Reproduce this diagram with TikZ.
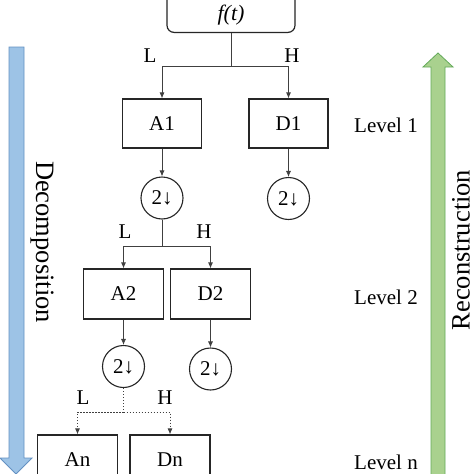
\documentclass[tikz,border=0pt]{standalone}
\usepackage{fontspec}
\setmainfont{Liberation Serif}
\usetikzlibrary{arrows.meta}
\definecolor{bluefill}{RGB}{157,195,230}
\definecolor{blueline}{RGB}{100,145,195}
\definecolor{greenfill}{RGB}{169,209,142}
\definecolor{greenline}{RGB}{100,170,90}
\begin{document}
\begin{tikzpicture}[x=1pt,y=-1pt,
  box/.style={draw=black!85,line width=1.2pt,minimum width=79pt,minimum height=49pt,inner sep=0pt,font=\fontsize{21}{25}\selectfont},
  ds/.style={circle,draw=black!85,line width=1.1pt,minimum size=42pt,inner sep=0pt,font=\fontsize{21}{25}\selectfont},
  conn/.style={draw=black!75,line width=0.8pt},
  arr/.style={conn,-{Latex[length=6pt,width=5pt]}},
  dotarr/.style={conn,dash pattern=on 1.2pt off 1.8pt,-{Latex[length=6pt,width=5pt]}},
  dotconn/.style={conn,dash pattern=on 1.2pt off 1.8pt},
  lbl/.style={font=\fontsize{21}{25}\selectfont,inner sep=0pt},
  big/.style={font=\fontsize{26.5}{31}\selectfont,inner sep=0pt}]
\clip (0,0) rectangle (474,474);
\fill[white] (0,0) rectangle (474,474);

% side arrows
\draw[fill=bluefill,draw=blueline,line width=0.8pt]
  (9,47) -- (24,47) -- (24,458) -- (32,458) -- (16,474) -- (0,458) -- (9,458) -- cycle;
\draw[fill=greenfill,draw=greenline,line width=0.8pt]
  (431,485) -- (431,67) -- (423,67) -- (438,53) -- (453,67) -- (445,67) -- (445,485) -- cycle;

\node[big,rotate=-90] (dec) at (42,242) {Decomposition};
\node[big,rotate=90] (rec) at (461,250) {Reconstruction};

% top
\node[draw=black!85,line width=1.2pt,rounded corners=7pt,minimum width=128pt,minimum height=50pt,anchor=south] (ft) at (231,33) {};
\node[lbl,font=\fontsize{22}{26}\selectfont] (ftl) at (231,15) {\textit{f(t)}};

% level 1
\node[box] (A1) at (162,123.5) {A1};
\node[box] (D1) at (288.5,123.5) {D1};
\node[ds] (c1) at (162,198) {2↓};
\node[ds] (c2) at (288.5,198.5) {2↓};

% level 2
\node[box,minimum width=80pt,minimum height=50pt] (A2) at (123.5,294) {A2};
\node[box,minimum width=80pt,minimum height=50pt] (D2) at (210.5,294) {D2};
\node[ds] (c3) at (123.5,366.5) {2↓};
\node[ds] (c4) at (210.5,369) {2↓};

% level n
\node[box,minimum width=80pt,minimum height=50pt] (An) at (77.5,460) {An};
\node[box,minimum width=80pt,minimum height=50pt] (Dn) at (170,460) {Dn};

% connectors
\coordinate (j1) at (231,66);
\draw[conn] (ft.south) -- (j1);
\draw[arr] (j1) -| (A1.north);
\draw[arr] (j1) -| (D1.north);
\draw[arr] (A1) -- (c1);
\draw[arr] (D1) -- (c2);

\coordinate (j2) at (162,246);
\draw[conn] (c1) -- (j2);
\draw[arr] (j2) -| (A2.north);
\draw[arr] (j2) -| (D2.north);
\draw[arr] (A2) -- (c3);
\draw[arr] (D2) -- (c4);

\coordinate (j3) at (123.5,412);
\draw[dotconn] (c3) -- (j3);
\draw[dotarr] (j3) -| (An.north);
\draw[dotarr] (j3) -| (Dn.north);

% labels
\node[lbl] (L1) at (150,56) {L};
\node[lbl] (H1) at (292,56) {H};
\node[lbl] (L2) at (125,232) {L};
\node[lbl] (H2) at (204,232) {H};
\node[lbl] (L3) at (83,398) {L};
\node[lbl] (H3) at (165,398) {H};

\node[lbl] (lv1) at (386,125) {Level 1};
\node[lbl] (lv2) at (386,297) {Level 2};
\node[lbl] (lvn) at (386,462) {Level n};
\end{tikzpicture}
\end{document}
